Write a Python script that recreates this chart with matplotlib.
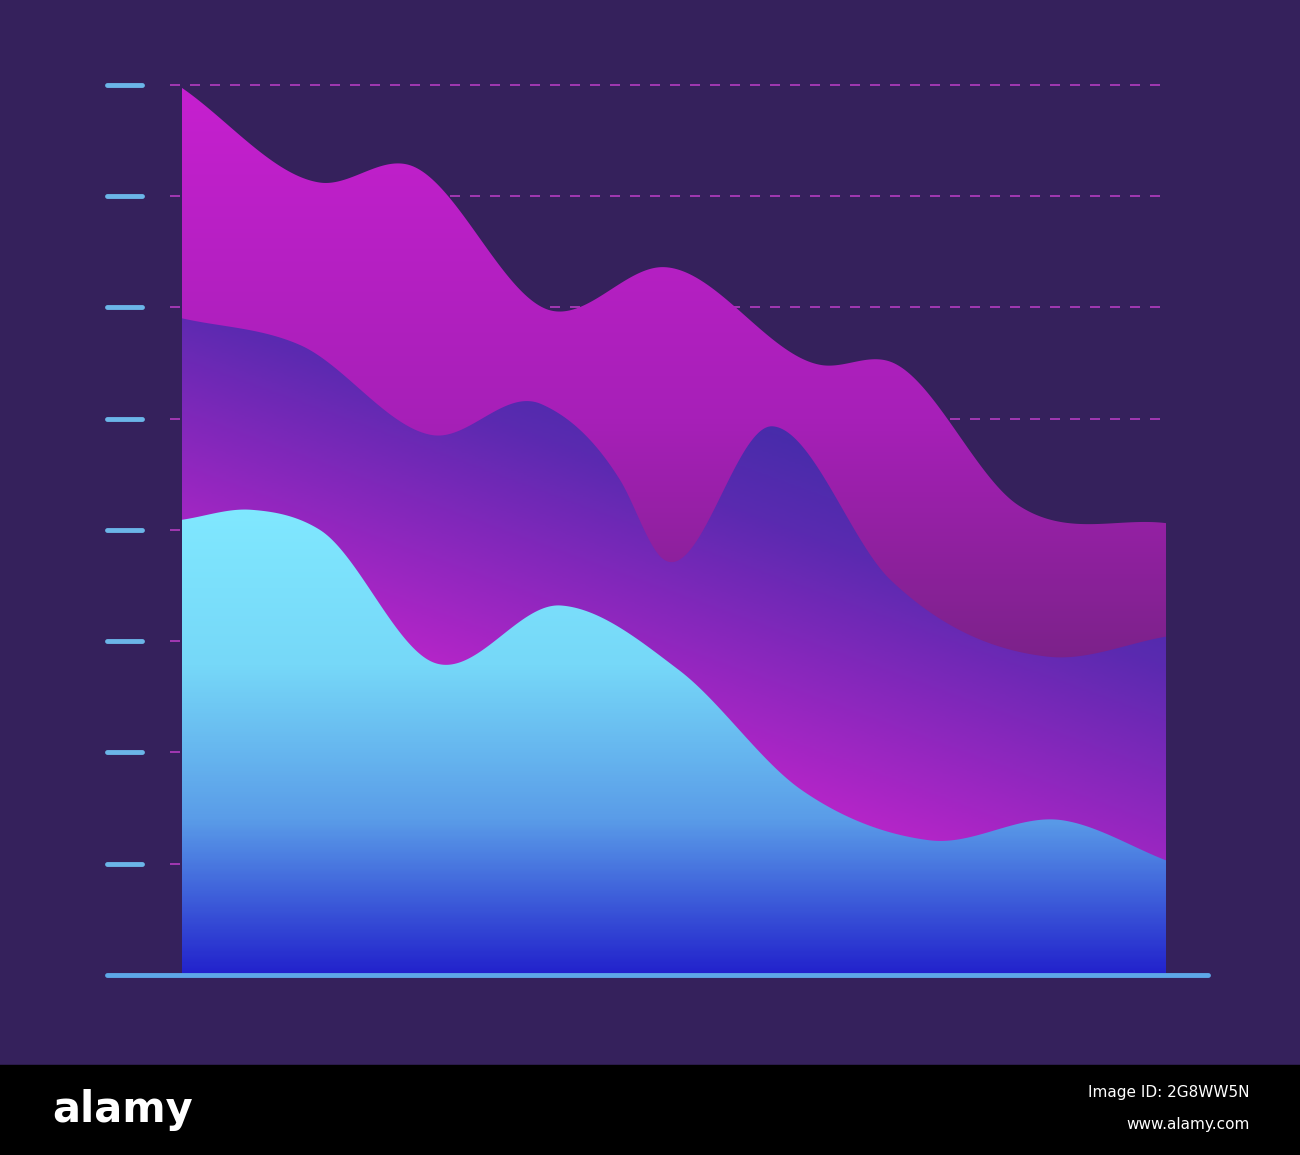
import numpy as np
import matplotlib
matplotlib.use("Agg")
import matplotlib.pyplot as plt
from matplotlib.colors import LinearSegmentedColormap
from matplotlib.patches import Polygon

# control points (x in 0..1 across plot, y in grid units)
top_x = [0.0, 0.14, 0.23, 0.375, 0.49, 0.65, 0.72, 0.85, 1.0]
top_y = [7.97, 7.12, 7.28, 5.97, 6.36, 5.48, 5.51, 4.22, 4.06]
mid_x = [0.0, 0.12, 0.255, 0.365, 0.445, 0.485, 0.6, 0.72, 0.88, 1.0]
mid_y = [5.90, 5.66, 4.85, 5.13, 4.45, 3.77, 4.93, 3.55, 2.86, 3.04]
bot_x = [0.0, 0.07, 0.14, 0.255, 0.385, 0.505, 0.63, 0.76, 0.895, 1.0]
bot_y = [4.09, 4.18, 4.00, 2.81, 3.32, 2.74, 1.66, 1.21, 1.39, 1.03]
grid_levels = [1, 2, 3, 4, 5, 6, 7, 8]

def smooth(xs, ys, n=400):
    xs = np.asarray(xs, float); ys = np.asarray(ys, float)
    m = np.gradient(ys, xs)
    out_x, out_y = [], []
    for i in range(len(xs) - 1):
        h = xs[i+1] - xs[i]
        t = np.linspace(0, 1, 60, endpoint=False)
        h00 = 2*t**3 - 3*t**2 + 1; h10 = t**3 - 2*t**2 + t
        h01 = -2*t**3 + 3*t**2; h11 = t**3 - t**2
        out_x.append(xs[i] + t*h)
        out_y.append(h00*ys[i] + h10*h*m[i] + h01*ys[i+1] + h11*h*m[i+1])
    out_x.append([xs[-1]]); out_y.append([ys[-1]])
    return np.concatenate(out_x), np.concatenate(out_y)

bg = "#35215C"
fig = plt.figure(figsize=(13, 11.55), dpi=100, facecolor=bg)
ax = fig.add_axes([0, 0, 1, 1])
ax.set_facecolor(bg)
ax.set_xlim(-182/984, (1300-182)/984)
ax.set_ylim(-180/111.3, 975/111.3)
ax.axis("off")

# grid + ticks
for g in grid_levels:
    ax.plot([-12/984, 1.0], [g, g], color="#B43CC0", lw=1.2, ls=(0, (6, 6)), zorder=1)
    ax.plot([-75/984, -40/984], [g, g], color="#6BB5E8", lw=3.5, solid_capstyle="round", zorder=5)

def grad_fill(xs, ys, lower, colors, direction, z):
    px = np.concatenate([xs, [1.0, 0.0]])
    py = np.concatenate([ys, [lower, lower]])
    poly = Polygon(np.column_stack([px, py]), closed=True, facecolor="none", edgecolor="none")
    ax.add_patch(poly)
    cmap = LinearSegmentedColormap.from_list("c", colors)
    yy, xx = np.mgrid[0:1:300j, 0:1:300j]
    if direction == "v":
        img = yy
    else:
        img = np.clip(0.75*yy + 0.45*(1-xx) - 0.1, 0, 1)
    top = ys.max()
    im = ax.imshow(img, cmap=cmap, extent=[0, 1, lower, top], origin="upper",
                   aspect="auto", zorder=z, interpolation="bilinear")
    im.set_clip_path(poly)

tx, ty = smooth(top_x, top_y)
mx, my = smooth(mid_x, mid_y)
bx, by = smooth(bot_x, bot_y)
grad_fill(tx, ty, 2.0, ["#C620CF", "#A71FB8", "#6B2378"], "v", 2)
grad_fill(mx, my, 0.5, ["#2630A0", "#5A2AB0", "#B425C8", "#B425C8"], "d", 3)
grad_fill(bx, by, 0.0, ["#80E8FF", "#76D8F8", "#5A9CE8", "#2222CC"], "v", 4)

ax.plot([-75/984, 1026/984], [0, 0], color="#5DA8E8", lw=3.5, solid_capstyle="round", zorder=6)

# bottom band
ax.fill_between([-1, 2], -180/111.3, -90/111.3, color="black", zorder=7)
ax.text(-130/984, -135/111.3, "alamy", color="white", fontsize=30, fontweight="bold",
        va="center", ha="left", zorder=8)
ax.text(1068/984, -118/111.3, "Image ID: 2G8WW5N", color="white", fontsize=11,
        va="center", ha="right", zorder=8)
ax.text(1068/984, -150/111.3, "www.alamy.com", color="white", fontsize=11,
        va="center", ha="right", zorder=8)

fig.savefig("out.png", dpi=100, facecolor=bg)
